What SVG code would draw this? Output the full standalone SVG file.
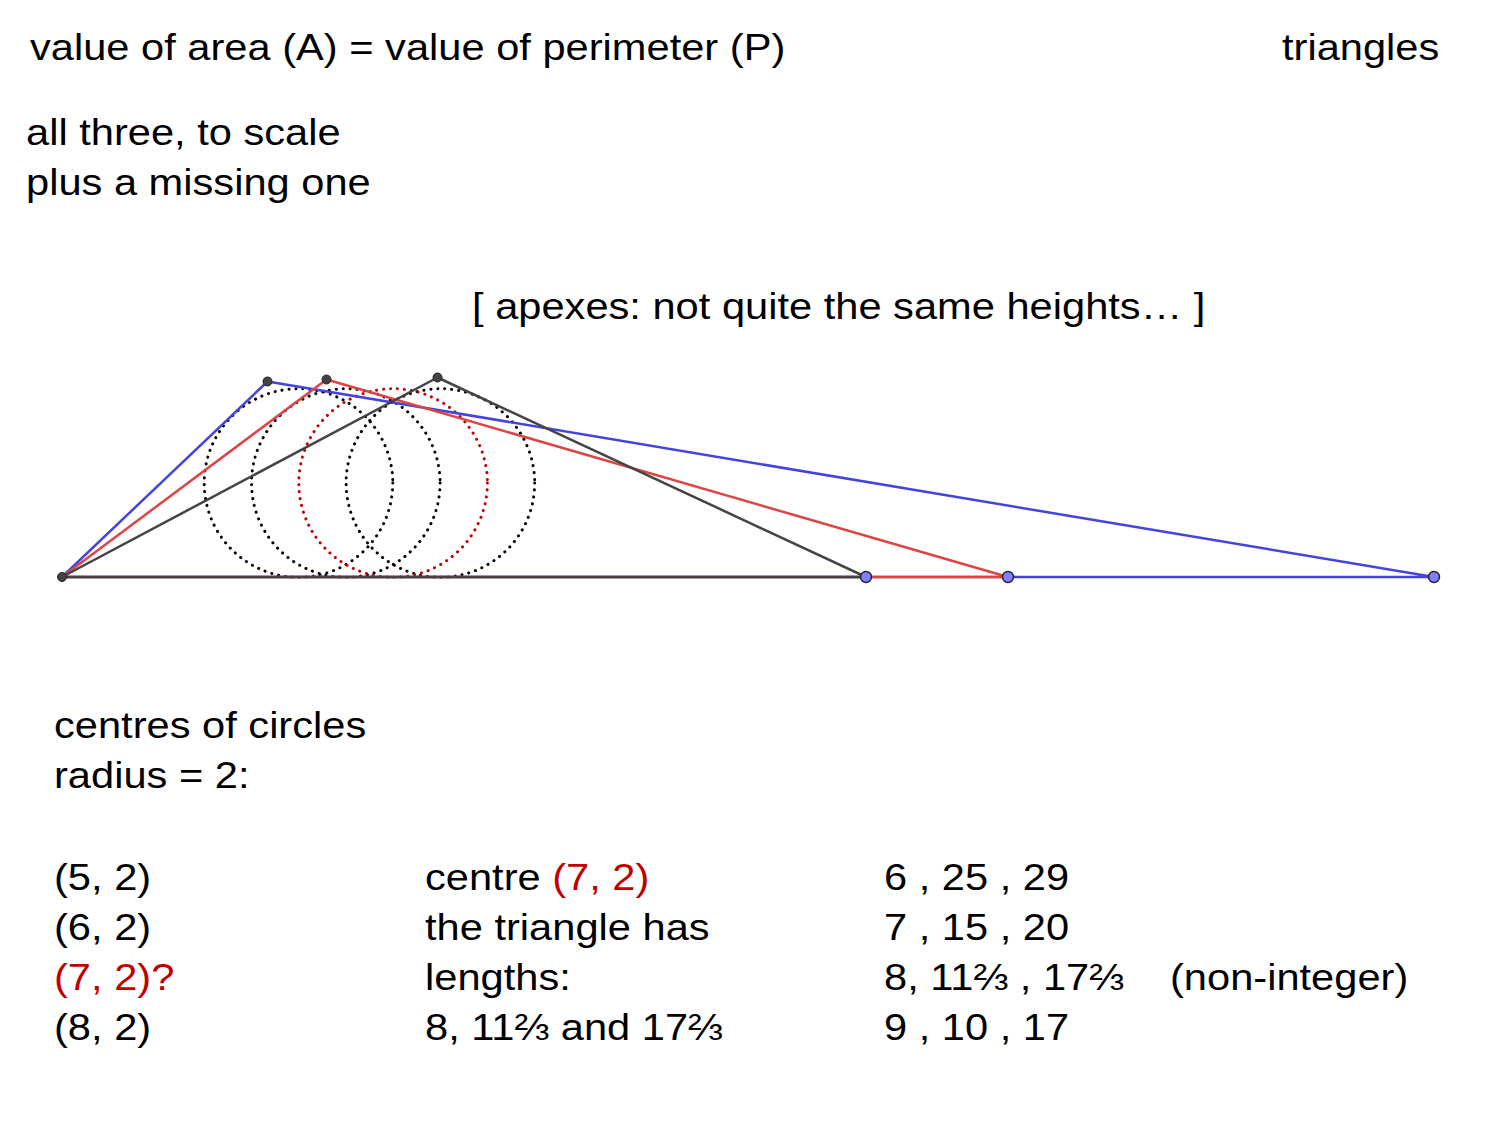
<svg xmlns="http://www.w3.org/2000/svg" width="1500" height="1125" viewBox="0 0 1500 1125">
<style>
text{font-family:"Liberation Sans",Arial,sans-serif;font-size:37px;fill:#000}
.r{fill:#c00000}
.tri{fill:none;stroke-width:2.5;stroke-linejoin:round}
.circ{fill:none;stroke-width:3;stroke-dasharray:0.1 6.9;stroke-linecap:round}
.apex{fill:#444;stroke:#222;stroke-width:1}
.bp{fill:#7f7fff;stroke:#222;stroke-width:1.4}
</style>
<rect width="1500" height="1125" fill="#fff"/>
<g id="texts">
<text transform="translate(30,60) scale(1.125,1)">value of area (A) = value of perimeter (P)</text>
<text transform="translate(1282,60) scale(1.125,1)">triangles</text>
<text transform="translate(26,145) scale(1.125,1)">all three, to scale</text>
<text transform="translate(26,195) scale(1.125,1)">plus a missing one</text>
<text transform="translate(472,319) scale(1.125,1)">[ apexes: not quite the same heights… ]</text>
<text transform="translate(54,738) scale(1.125,1)">centres of circles</text>
<text transform="translate(54,788) scale(1.125,1)">radius = 2:</text>
<text transform="translate(54,890) scale(1.125,1)">(5, 2)</text>
<text transform="translate(54,940) scale(1.125,1)">(6, 2)</text>
<text transform="translate(54,990) scale(1.125,1)" class="r">(7, 2)?</text>
<text transform="translate(54,1040) scale(1.125,1)">(8, 2)</text>
<text transform="translate(425,890) scale(1.125,1)">centre <tspan class="r">(7, 2)</tspan></text>
<text transform="translate(425,940) scale(1.125,1)">the triangle has</text>
<text transform="translate(425,990) scale(1.125,1)">lengths:</text>
<text transform="translate(425,1040) scale(1.125,1)">8, 11⅔ and 17⅔</text>
<text transform="translate(884,890) scale(1.125,1)">6 , 25 , 29</text>
<text transform="translate(884,940) scale(1.125,1)">7 , 15 , 20</text>
<text transform="translate(884,990) scale(1.125,1)">8, 11⅔ , 17⅔</text>
<text transform="translate(1170,990) scale(1.125,1)">(non-integer)</text>
<text transform="translate(884,1040) scale(1.125,1)">9 , 10 , 17</text>
</g>
<g id="circles">
<circle class="circ" cx="298.5" cy="483" r="94.3" stroke="#000"/>
<circle class="circ" cx="345.8" cy="483" r="94.3" stroke="#000"/>
<circle class="circ" cx="440.4" cy="483" r="94.3" stroke="#000"/>
<circle class="circ" cx="393.1" cy="483" r="94.3" stroke="#c00000"/>
</g>
<g id="connectors">
<polygon class="tri" points="62,577 267.5,381.5 1434,577" stroke="#4444dd"/>
<polygon class="tri" points="62,577 326.5,379.5 1008,577" stroke="#dd4444"/>
<polygon class="tri" points="62,577 437.5,377.5 866,577" stroke="#444"/>
</g>
<g id="points">
<circle id="A" class="apex" cx="62" cy="577" r="4.5"/>
<circle id="blue-apex" class="apex" cx="267.5" cy="381.5" r="4.5"/>
<circle id="red-apex" class="apex" cx="326.5" cy="379.5" r="4.5"/>
<circle id="black-apex" class="apex" cx="437.5" cy="377.5" r="4.5"/>
<circle id="B17" class="bp" cx="866" cy="577" r="5.5"/>
<circle id="B20" class="bp" cx="1008" cy="577" r="5.5"/>
<circle id="B29" class="bp" cx="1434" cy="577" r="5.5"/>
</g>
</svg>
